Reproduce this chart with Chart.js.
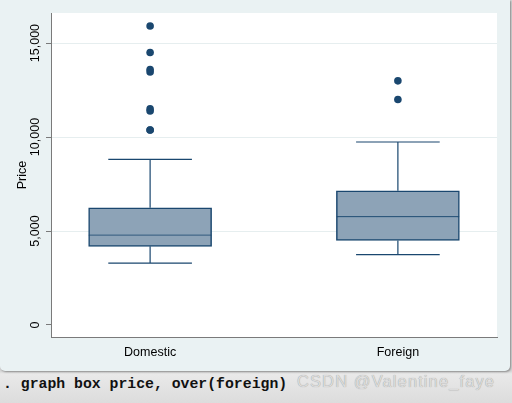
<!DOCTYPE html>
<html>
<head>
<meta charset="utf-8">
<script src="https://cdn.jsdelivr.net/npm/chart.js@4.4.1/dist/chart.umd.min.js"></script>
<style>
  html, body { margin: 0; padding: 0; }
  body { width: 512px; height: 403px; overflow: hidden; background: linear-gradient(#d6d6d6 0px, #d6d6d6 371px, #e9e9e9 374px, #dcdcdc 403px); position: relative; font-family: "Liberation Sans", Arial, sans-serif; }
  #graphWindow { position: absolute; left: 0; top: 0; width: 510px; height: 371px; background: #eaf2f3; border-radius: 0 0 5px 5px; box-shadow: 1px 1px 2px rgba(0,0,0,0.35); }
  #boxChart { display: block; }
  #command { position: absolute; left: 3px; top: 376px; font: bold 14.8px/17px "Liberation Mono", "DejaVu Sans Mono", monospace; color: #111; white-space: pre; }
  #watermark { position: absolute; left: 297px; top: 372px; font-size: 16.5px; line-height: 18px; letter-spacing: 1.1px; color: #dcdcdc; white-space: pre; text-shadow: 0 0 0.8px #8f8f8f; }
</style>
</head>
<body>
<div id="graphWindow">
  <canvas id="boxChart" width="510" height="371"></canvas>
</div>
<div id="command">. graph box price, over(foreign)</div>
<div id="watermark">CSDN @Valentine_faye</div>
<script>
const categories = ['Domestic', 'Foreign'];
const lowerWhisker = [3291, 3748];
const lowerQuartile = [4184, 4499];
const medians = [4782.5, 5759];
const upperQuartile = [6234, 7140];
const upperWhisker = [8814, 9735];
const domesticOutliers = [10371, 10372, 11385, 11497, 13466, 13594, 14500, 15906];
const foreignOutliers = [11995, 12990];
const yTicks = [0, 5000, 10000, 15000];

const navy = '#1a476f';
const boxFill = '#8da3b7';
const axisGray = '#7a7a7a';
const labelFont = { family: '"Liberation Sans", Arial, sans-serif', size: 12.5 };

// box = two floating bars, q1-median and median-q3, so the median is the shared edge
const lowerBox = categories.map((c, i) => ({ x: i, y: [lowerQuartile[i], medians[i]] }));
const upperBox = categories.map((c, i) => ({ x: i, y: [medians[i], upperQuartile[i]] }));
const outlierPoints = [
  ...domesticOutliers.map(v => ({ x: 0, y: v })),
  ...foreignOutliers.map(v => ({ x: 1, y: v }))
];

const plotBg = {
  id: 'plotBg',
  beforeDraw(chart) {
    const { ctx, chartArea: a } = chart;
    ctx.save();
    ctx.fillStyle = '#ffffff';
    ctx.fillRect(a.left, a.top, a.right - a.left, a.bottom - a.top);
    ctx.restore();
  }
};

// whisker stems and caps, placed with the chart's scales
const whiskers = {
  id: 'whiskers',
  beforeDatasetsDraw(chart) {
    const { ctx, scales: { x, y } } = chart;
    const half = chart.getDatasetMeta(0).data[0].width * 0.34;
    ctx.save();
    ctx.strokeStyle = navy;
    ctx.lineWidth = 1.2;
    categories.forEach((c, i) => {
      const px = x.getPixelForValue(i);
      [[lowerWhisker[i], lowerQuartile[i]], [upperWhisker[i], upperQuartile[i]]].forEach(([end, q]) => {
        const pe = y.getPixelForValue(end);
        ctx.beginPath();
        ctx.moveTo(px, y.getPixelForValue(q));
        ctx.lineTo(px, pe);
        ctx.moveTo(px - half, pe);
        ctx.lineTo(px + half, pe);
        ctx.stroke();
      });
    });
    ctx.restore();
  }
};

const boxStyle = {
  backgroundColor: boxFill,
  borderColor: navy,
  borderSkipped: false,
  barThickness: 123,
  grouped: false
};

new Chart(document.getElementById('boxChart'), {
  type: 'bar',
  data: {
    datasets: [
      { data: lowerBox, ...boxStyle, borderWidth: { top: 0.75, left: 1.5, right: 1.5, bottom: 1.5 } },
      { data: upperBox, ...boxStyle, borderWidth: { top: 1.5, left: 1.5, right: 1.5, bottom: 0.75 } },
      {
        type: 'scatter',
        data: outlierPoints,
        pointRadius: 3.8,
        pointHoverRadius: 3.8,
        backgroundColor: navy,
        borderWidth: 0
      }
    ]
  },
  options: {
    responsive: false,
    animation: false,
    layout: { padding: { left: 0, top: 13, right: 13, bottom: 0 } },
    plugins: { legend: { display: false }, tooltip: { enabled: false } },
    scales: {
      x: {
        type: 'linear',
        offset: false,
        min: -0.4,
        max: 1.4,
        afterBuildTicks: s => { s.ticks = categories.map((c, i) => ({ value: i })); },
        afterFit: s => { s.height = 34; },
        grid: { display: false, drawTicks: false, offset: false },
        border: { color: axisGray, width: 1 },
        ticks: {
          callback: v => categories[v],
          autoSkip: false,
          maxRotation: 0,
          padding: 8,
          color: '#000',
          font: labelFont
        }
      },
      y: {
        min: -640,
        max: 16600,
        afterBuildTicks: s => { s.ticks = yTicks.map(v => ({ value: v })); },
        afterFit: s => { s.width = 51; },
        grid: {
          color: c => (c.tick && c.tick.value === 0) ? 'rgba(0,0,0,0)' : '#e6eeef',
          tickColor: axisGray,
          tickLength: 5,
          lineWidth: 1
        },
        border: { color: axisGray, width: 1 },
        ticks: {
          callback: v => v.toLocaleString('en-US'),
          autoSkip: false,
          minRotation: 90,
          maxRotation: 90,
          crossAlign: 'center',
          padding: -9,
          color: '#000',
          font: labelFont
        },
        title: {
          display: true,
          text: 'Price',
          color: '#000',
          font: labelFont,
          padding: { top: 15, bottom: 0 }
        }
      }
    }
  },
  plugins: [plotBg, whiskers]
});
</script>
</body>
</html>
